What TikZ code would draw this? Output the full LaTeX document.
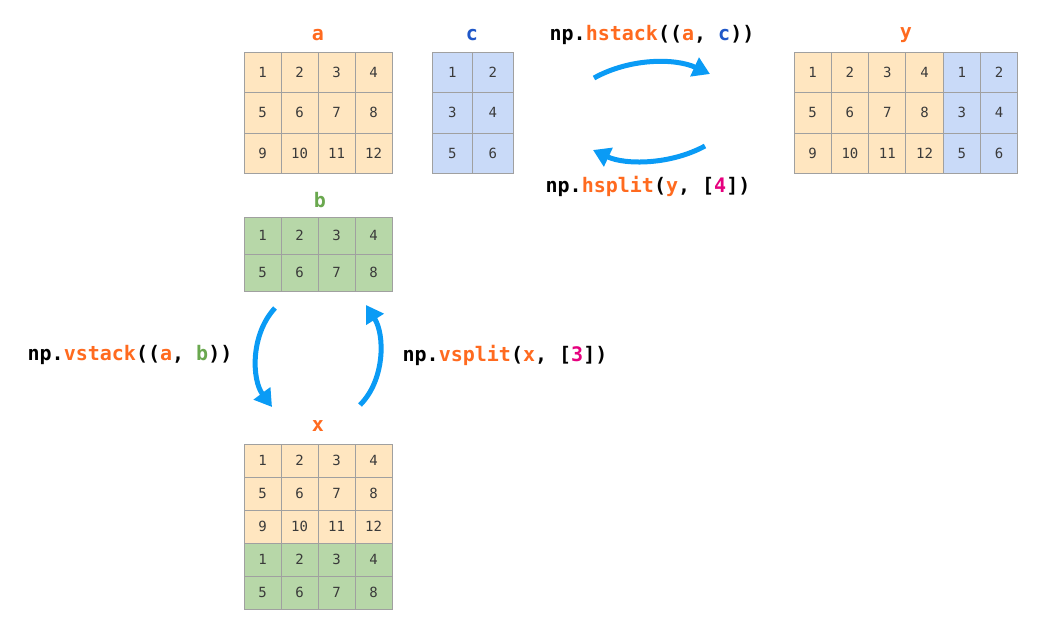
\documentclass[tikz,border=0pt]{standalone}
\usepackage{fontspec}
\setmonofont{DejaVu Sans Mono}
\usetikzlibrary{arrows.meta}
\definecolor{cor}{HTML}{FFE6C0}
\definecolor{cbl}{HTML}{C9DAF8}
\definecolor{cgr}{HTML}{B7D7A8}
\definecolor{tor}{HTML}{FF6A1F}
\definecolor{tbl}{HTML}{1F57C8}
\definecolor{tgr}{HTML}{6AA84F}
\definecolor{tpk}{HTML}{E6007E}
\definecolor{arr}{HTML}{0A9BF5}
\definecolor{txt}{HTML}{3A3A3A}
\begin{document}
\begin{tikzpicture}[x=1pt,y=-1pt,
  cell/.style={draw={rgb,255:red,160;green,160;blue,160},line width=1pt,inner sep=0pt,
    font=\ttfamily\fontsize{14}{16}\selectfont,text=txt},
  ttl/.style={font=\ttfamily\bfseries\fontsize{20}{22}\selectfont},
  lbl/.style={font=\ttfamily\bfseries\fontsize{20}{22}\selectfont},
  flow/.style={draw=arr,line width=5pt,-{Triangle[length=17pt,width=20pt]}}]
\useasboundingbox (0,0) rectangle (1047,635);
\newcommand\mygrid[7]{%
  \foreach \r/\c/\v in {#7}{
    \node[cell,fill=#6,minimum width=#4,minimum height=#5] (#1-\r-\c)
      at ({#2+(\c-0.5)*#4},{#3+(\r-0.5)*#5}) {\v};}}
% a
\mygrid{a}{244}{52}{37}{40.5}{cor}{1/1/1,1/2/2,1/3/3,1/4/4,2/1/5,2/2/6,2/3/7,2/4/8,3/1/9,3/2/10,3/3/11,3/4/12}
\node[ttl,text=tor] (ta) at (318,35) {a};
% c
\mygrid{c}{432}{52}{40.5}{40.5}{cbl}{1/1/1,1/2/2,2/1/3,2/2/4,3/1/5,3/2/6}
\node[ttl,text=tbl] (tc) at (472,35) {c};
% y
\mygrid{y}{794}{52}{37.3}{40.5}{cor}{1/1/1,1/2/2,1/3/3,1/4/4,2/1/5,2/2/6,2/3/7,2/4/8,3/1/9,3/2/10,3/3/11,3/4/12}
\mygrid{yb}{943.2}{52}{37.3}{40.5}{cbl}{1/1/1,1/2/2,2/1/3,2/2/4,3/1/5,3/2/6}
\node[ttl,text=tor] (ty) at (906,35) {y};
% b
\mygrid{b}{244}{217}{37}{37}{cgr}{1/1/1,1/2/2,1/3/3,1/4/4,2/1/5,2/2/6,2/3/7,2/4/8}
\node[ttl,text=tgr] (tb) at (320,200) {b};
% x
\mygrid{x}{244}{444}{37}{33}{cor}{1/1/1,1/2/2,1/3/3,1/4/4,2/1/5,2/2/6,2/3/7,2/4/8,3/1/9,3/2/10,3/3/11,3/4/12}
\mygrid{xb}{244}{543}{37}{33}{cgr}{1/1/1,1/2/2,1/3/3,1/4/4,2/1/5,2/2/6,2/3/7,2/4/8}
\node[ttl,text=tor] (tx) at (318,426) {x};
% labels
\node[lbl] (lh) at (652,35) {np.\textcolor{tor}{hstack}((\textcolor{tor}{a}, \textcolor{tbl}{c}))};
\node[lbl] (ls) at (648,186) {np.\textcolor{tor}{hsplit}(\textcolor{tor}{y}, [\textcolor{tpk}{4}])};
\node[lbl] (lv) at (130,355) {np.\textcolor{tor}{vstack}((\textcolor{tor}{a}, \textcolor{tgr}{b}))};
\node[lbl] (lvs) at (505,355) {np.\textcolor{tor}{vsplit}(\textcolor{tor}{x}, [\textcolor{tpk}{3}])};
% arrows
\coordinate (h1) at (594,78); \coordinate (h2) at (710,74);
\coordinate (s1) at (705,146); \coordinate (s2) at (593,150);
\coordinate (v1) at (275,308); \coordinate (v2) at (272,407);
\coordinate (w1) at (360,405); \coordinate (w2) at (366,305);
\draw[flow] (h1) .. controls (630,58) and (675,58) .. (h2);
\draw[flow] (s1) .. controls (670,165) and (625,165) .. (s2);
\draw[flow] (v1) .. controls (250,335) and (252,380) .. (v2);
\draw[flow] (w1) .. controls (385,380) and (385,335) .. (w2);
\end{tikzpicture}
\end{document}
